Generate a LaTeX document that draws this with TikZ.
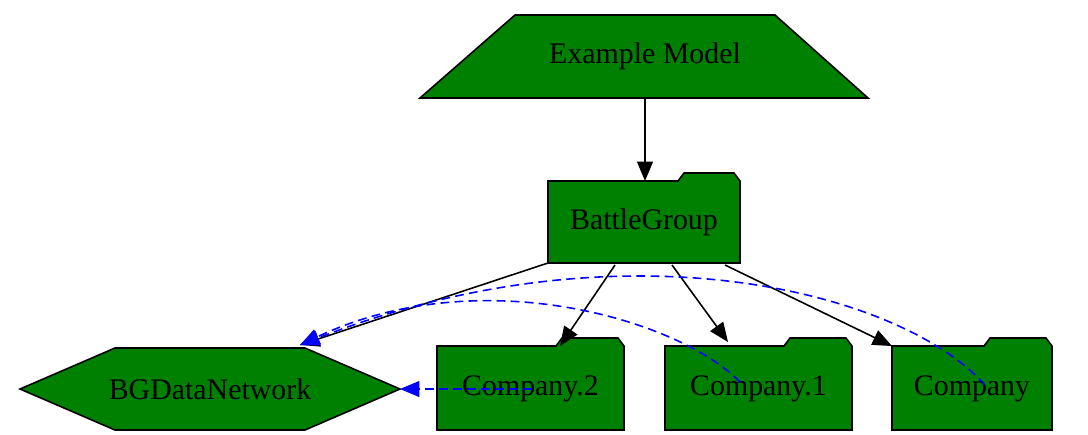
\documentclass[tikz,border=0pt]{standalone}
\usepackage{fontspec}
\setmainfont{Liberation Serif}
\usetikzlibrary{arrows.meta}
\definecolor{gv}{RGB}{0,128,0}
\begin{document}
\begin{tikzpicture}[x=0.02cm,y=-0.02cm,
  shp/.style={fill=gv,draw=black,line width=0.9pt},
  lbl/.style={font=\fontsize{17}{19}\selectfont,inner sep=0},
  edge/.style={-{Triangle[length=11pt,width=9pt]},line width=0.9pt},
  dep/.style={-{Triangle[length=11pt,width=9pt]},blue,dash pattern=on 5pt off 3pt,line width=0.9pt}]
\useasboundingbox (0,0) rectangle (1088,434);
% shapes
\draw[shp] (515,15)--(775,15)--(868,98)--(420,98)--cycle;
\node[lbl] (em) at (645,56) {Example Model};
\draw[shp] (548,181)--(678,181)--(684,173)--(734,173)--(740,181)--(740,263)--(548,263)--cycle;
\node[lbl] (bg) at (644,222) {BattleGroup};
\draw[shp] (20,389)--(115,348)--(305,348)--(400,389)--(305,430)--(115,430)--cycle;
\node[lbl] (net) at (210,389) {BGDataNetwork};
\foreach \a/\b/\n/\t in {437/624/c2/Company.2,665/852/c1/Company.1,892/1052/c0/Company}{
  \draw[shp] (\a,346)--(\b-68,346)--(\b-62,338)--(\b-6,338)--(\b,346)--(\b,430)--(\a,430)--cycle;
  \node[lbl] (\n) at ({(\a+\b)/2},389) {\t};
}
\coordinate (emb) at (645,98);
\coordinate (bgt) at (645,181);
\coordinate (bgl) at (548,263);
\coordinate (bg2) at (615,265);
\coordinate (bg1) at (672,265);
\coordinate (bg0) at (725,265);
\coordinate (nett) at (300,345);
\coordinate (netr) at (400,389);
\coordinate (c2t) at (560,346);
\coordinate (c1t) at (728,342);
\coordinate (c0t) at (892,346);
\draw[edge] (emb)--(bgt);
\draw[edge] (bgl)--(nett);
\draw[edge] (bg2)--(c2t);
\draw[edge] (bg1)--(c1t);
\draw[edge] (bg0)--(c0t);
\coordinate (c2s) at (532,389);
\coordinate (c1s) at (740,382);
\coordinate (c0s) at (985,385);
\draw[dep] (c2s)--(netr);
\draw[dep] (c1s) .. controls (680,320) and (480,260) .. (nett);
\draw[dep] (c0s) .. controls (900,290) and (620,220) .. (nett);
\end{tikzpicture}
\end{document}
